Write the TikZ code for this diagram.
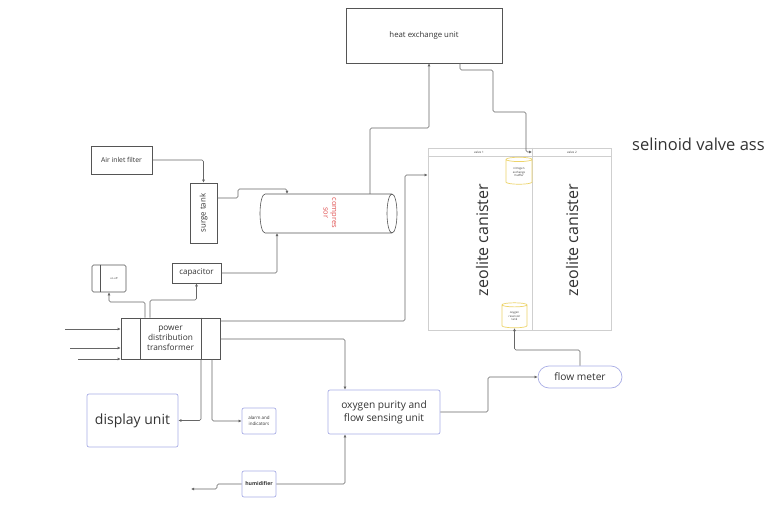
\documentclass[tikz,border=0pt]{standalone}
\usepackage{fontspec}
\setmainfont{Open Sans}
\usetikzlibrary{shapes.geometric,arrows.meta,calc}
\definecolor{ln}{HTML}{666666}
\definecolor{bx}{HTML}{555555}
\definecolor{pu}{HTML}{A9AEE6}
\definecolor{tx}{HTML}{333333}
\definecolor{yl}{HTML}{EDD46A}
\definecolor{pn}{HTML}{CFCFCF}
\tikzset{
  box/.style={draw=bx,line width=0.6pt,fill=white,text=tx,inner sep=1pt,align=center},
  pbox/.style={draw=pu,line width=0.7pt,fill=white,text=tx,rounded corners=2pt,inner sep=1pt,align=center},
  arr/.style={draw=ln,line width=0.6pt,rounded corners=1.5pt,-{Latex[length=3pt,width=3pt]}},
  ycyl/.style={cylinder,shape border rotate=90,draw=yl,line width=0.7pt,aspect=0.35,fill=white,text=tx,align=center,inner sep=0pt},
}
\begin{document}
\begin{tikzpicture}[x=1pt,y=-1pt]
\useasboundingbox[fill=white] (0,0) rectangle (768,505);
% nodes
\node[box,minimum width=156pt,minimum height=55pt,font=\fontsize{7.8}{9}\selectfont] (hx) at (424,35.5) {heat exchange unit};
\node[box,minimum width=61pt,minimum height=28pt,font=\fontsize{6.8}{8}\selectfont] (air) at (121.5,160) {Air inlet filter};
\node[box,minimum width=27pt,minimum height=60pt] (surge) at (203.5,213) {};
\node[rotate=90,text=tx,font=\fontsize{7.8}{9}\selectfont] at (surge.center) {surge tank};
% compressor (horizontal cylinder)
\node[minimum width=137pt,minimum height=39pt,inner sep=0pt] (comp) at (328.5,213.5) {};
\draw[bx,line width=0.6pt] (265,194) -- (392,194) (265,233) -- (392,233)
  (392,213.5) ellipse [x radius=5, y radius=19.5]
  (265,194) arc [start angle=270, end angle=90, x radius=5, y radius=19.5];
\node[rotate=-90,text={rgb,255:red,225;green,85;blue,85},align=center,font=\fontsize{7.5}{8.5}\selectfont] at (330,213) {compres\\sor};
\node[box,minimum width=49pt,minimum height=20pt,font=\fontsize{8}{9}\selectfont] (cap) at (196.5,273) {capacitor};
\node[box,rounded corners=1.5pt,minimum width=34pt,minimum height=27pt] (onoff) at (109,278.5) {};
\draw[bx,line width=0.5pt] (100,0 |- onoff.north) -- (100,0 |- onoff.south);
\node[text=tx,font=\fontsize{2.5}{3}\selectfont] at (114,278.5) {on-off};
\node[box,minimum width=99pt,minimum height=41pt,font=\fontsize{8.3}{10}\selectfont] (pdt) at (170.5,338.5) {power\\distribution\\transformer};
\draw[bx,line width=0.6pt] (140,0 |- pdt.north) -- (140,0 |- pdt.south);
\draw[bx,line width=0.6pt] (201,0 |- pdt.north) -- (201,0 |- pdt.south);
\node[pbox,minimum width=91pt,minimum height=53pt,font=\fontsize{14}{16}\selectfont] (disp) at (132.5,420.5) {display unit};
\node[pbox,minimum width=34pt,minimum height=26pt,font=\fontsize{4.5}{5.5}\selectfont] (alarm) at (259,421) {alarm and\\indicators};
\node[pbox,minimum width=34pt,minimum height=26pt,font=\fontsize{5.2}{6}\selectfont\bfseries] (hum) at (259,484) {humidifier};
\node[pbox,minimum width=112pt,minimum height=44pt,font=\fontsize{10.2}{13}\selectfont] (oxy) at (384,412) {oxygen purity and\\flow sensing unit};
\node[pbox,rounded corners=11pt,minimum width=84pt,minimum height=22pt,font=\fontsize{10.2}{12}\selectfont] (flow) at (580,377) {flow meter};
% zeolite panel
\node[draw=pn,line width=0.8pt,minimum width=183pt,minimum height=182pt,inner sep=0pt] (panel) at (519.5,239) {};
\draw[pn,line width=0.6pt] (panel.west |- 0,156) -- (panel.east |- 0,156);
\draw[pn,line width=0.6pt] (532,0 |- panel.north) -- (532,0 |- panel.south);
\node[text=tx,font=\fontsize{3}{3}\selectfont] at (479,152) {valve 1};
\node[text=tx,font=\fontsize{3}{3}\selectfont] at (572,152) {valve 2};
\node[rotate=90,text=tx,font=\fontsize{16}{17}\selectfont] at (482,240) {zeolite canister};
\node[rotate=90,text=tx,font=\fontsize{16}{17}\selectfont] at (572,240) {zeolite canister};
\node[ycyl,minimum width=26pt,minimum height=27pt,font=\fontsize{2.8}{3.5}\selectfont] (cylA) at (519,172) {nitrogen\\exchange\\muffler};
\node[ycyl,minimum width=25pt,minimum height=25pt,font=\fontsize{2.8}{3.5}\selectfont] (cylB) at (514.5,316.5) {oxygen\\reservoir\\tank};
\node[anchor=west,text=tx,inner sep=0pt,font=\fontsize{16.5}{18}\selectfont] (sel) at (632,144) {selinoid valve ass};
% coordinates
\coordinate (v2) at (532,152);
\coordinate (in1) at (65,329);
\coordinate (in2) at (70,348);
\coordinate (in3) at (78,359);
\coordinate (out) at (191,489);
% connectors
\draw[arr] (air.east) -| (surge.north);
\draw[arr] (surge.east |- 0,198) -- (238,198) -- (238,189) -- (287,189) -- (287,0 |- comp.north);
\draw[arr] (cap.east) -| (277,0 |- comp.south);
\draw[arr] (370,0 |- comp.north) -- (370,128) -| (429,0 |- hx.south);
\draw[arr] (460,0 |- hx.south) -- (460,70) -- (493,70) -- (493,112) -- (526,112) -- (526,152) -- (v2);
\draw[arr] (pdt.east |- 0,321) -- (405,321) |- (panel.west |- 0,175);
\draw[arr] (pdt.east |- 0,339) -| (345,0 |- oxy.north);
\draw[arr] (201,0 |- pdt.south) |- (disp.east);
\draw[arr] (212,0 |- pdt.south) |- (alarm.west);
\draw[arr] (145,0 |- pdt.north) -- (145,302) -| (onoff.south);
\draw[arr] (150,0 |- pdt.north) -- (150,300) -| (cap.south);
\draw[arr] (in1) -- (pdt.west |- in1);
\draw[arr] (in2) -- (pdt.west |- in2);
\draw[arr] (in3) -- (pdt.west |- in3);
\draw[arr] (oxy.east) -- (488,0 |- oxy.east) |- (flow.west);
\draw[arr] (flow.north) -- (580,350) -| (cylB.south);
\draw[arr] (hum.east) -| (345,0 |- oxy.south);
\draw[arr] (hum.west) -- (217,0 |- hum.west) -- (217,489) -- (out);
\end{tikzpicture}
\end{document}
